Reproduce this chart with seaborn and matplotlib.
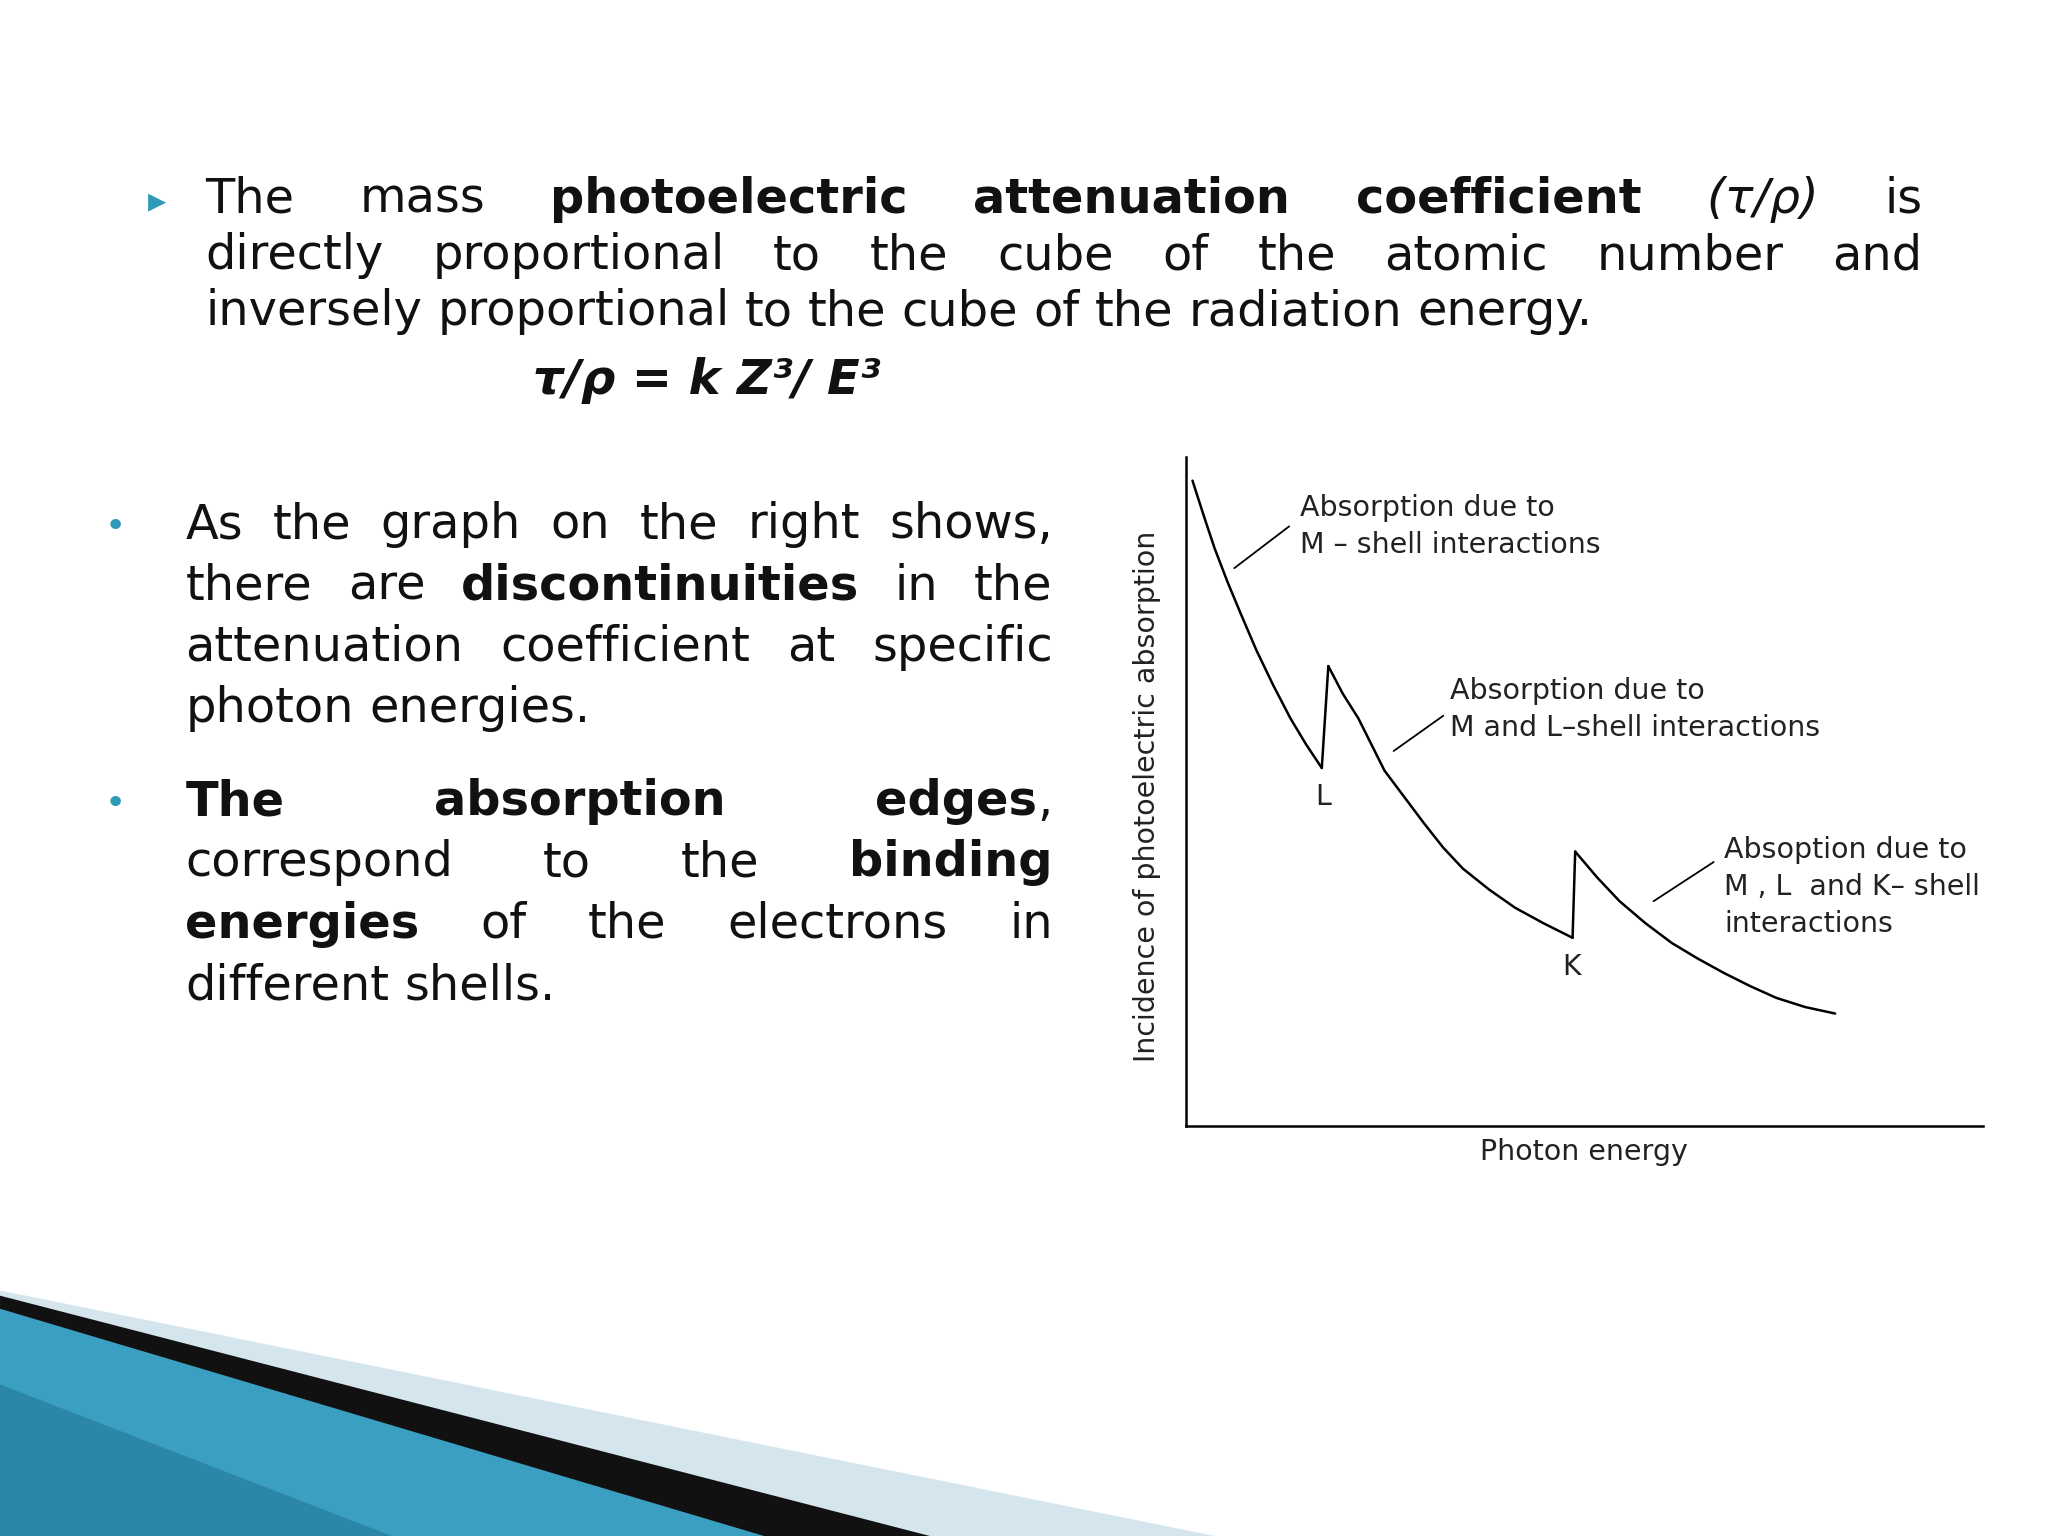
import matplotlib
matplotlib.use("Agg")
import matplotlib.pyplot as plt
import seaborn as sns
import pandas as pd
from matplotlib.patches import Polygon

sns.set_theme(style="white")
plt.rcParams['font.family'] = ['DejaVu Sans']

# Data (chart units: energy 0..610, absorption 0..512)
seg1_energy = [5, 14, 22, 32, 42, 54, 67, 80, 92, 104]
seg1_absorb = [494, 466, 442, 416, 392, 364, 337, 312, 292, 274]
seg2_energy = [109, 120, 132, 142, 152, 167, 182, 197, 212, 232, 252, 274, 296]
seg2_absorb = [352, 331, 312, 292, 272, 252, 232, 213, 197, 181, 167, 155, 144]
seg3_energy = [298, 315, 332, 352, 372, 392, 412, 432, 452, 474, 497]
seg3_absorb = [210, 190, 172, 155, 140, 128, 117, 107, 98, 91, 86]

rows = []
for s, (e, a) in enumerate([(seg1_energy, seg1_absorb), (seg2_energy, seg2_absorb), (seg3_energy, seg3_absorb)]):
    for xx, yy in zip(e, a):
        rows.append(dict(seg=s, energy=xx, absorb=yy))
df = pd.DataFrame(rows)
jump_rows = [dict(seg=3, energy=104, absorb=274), dict(seg=3, energy=109, absorb=352),
             dict(seg=4, energy=296, absorb=144), dict(seg=4, energy=298, absorb=210)]
df = pd.concat([df, pd.DataFrame(jump_rows)], ignore_index=True)

W, H = 1568, 1176
def f(px, py):
    return px / W, 1 - py / H

fig = plt.figure(figsize=(20.48, 15.36), dpi=100)
fig.patch.set_facecolor("white")

for pts, col in [([(0, 988), (930, 1176), (0, 1176)], "#d4e5ee"),
                 ([(0, 992), (712, 1176), (0, 1176)], "#111111"),
                 ([(0, 1002), (585, 1176), (0, 1176)], "#3b9fc2"),
                 ([(0, 1060), (300, 1176), (0, 1176)], "#2b86a8")]:
    fig.patches.append(Polygon([f(*p) for p in pts], closed=True, transform=fig.transFigure,
                               facecolor=col, edgecolor="none"))

renderer = fig.canvas.get_renderer()
FS = 34.5
TEAL = "#2e9ab8"

def justified(words, left, right, base, fs=FS, justify=True):
    arts = []
    for w, b, it in words:
        t = fig.text(0, 0, w, fontsize=fs, fontweight="bold" if b else "normal",
                     fontstyle="italic" if it else "normal", va="baseline", ha="left", color="#111111")
        arts.append(t)
    widths = [t.get_window_extent(renderer).width for t in arts]
    figw = fig.get_figwidth() * fig.dpi
    L = left / W * figw
    R = right / W * figw
    space = renderer.get_text_width_height_descent(" ", arts[0].get_fontproperties(), ismath=False)[0]
    gap = (R - L - sum(widths)) / (len(arts) - 1) if justify and len(arts) > 1 else space
    x = L
    for t, wd in zip(arts, widths):
        t.set_position((x / figw, 1 - base / H))
        x += wd + gap

def line(s, bold_words=(), italic_words=()):
    return [(w, w in bold_words, w in italic_words) for w in s.split()]

fig.text(*f(113, 162), "▸", fontsize=26, color=TEAL, va="baseline")
justified(line("The mass photoelectric attenuation coefficient (τ/ρ) is",
               bold_words=("photoelectric", "attenuation", "coefficient"), italic_words=("(τ/ρ)",)),
          157, 1472, 163)
justified(line("directly proportional to the cube of the atomic number and"), 157, 1472, 206)
justified(line("inversely proportional to the cube of the radiation energy."), 157, 1472, 249, justify=False)
fig.text(*f(408, 302), "τ/ρ = k Z³/ E³", fontsize=FS, fontweight="bold", fontstyle="italic",
         va="baseline", color="#111111")

fig.text(*f(80, 411), "•", fontsize=26, color=TEAL, va="baseline")
fig.text(*f(80, 623), "•", fontsize=26, color=TEAL, va="baseline")
R2 = 806
justified(line("As the graph on the right shows,"), 142, R2, 412)
justified(line("there are discontinuities  in the", bold_words=("discontinuities",)), 142, R2, 459)
justified(line("attenuation coefficient at specific"), 142, R2, 506)
justified(line("photon energies."), 142, R2, 553, justify=False)
justified([("The", True, False), ("absorption", True, False), ("edges", True, False)], 142, R2 - 12, 624)
fig.text(*f(794, 624), ",", fontsize=FS, va="baseline", color="#111111")
justified(line("correspond to the binding", bold_words=("binding",)), 142, R2, 671)
justified(line("energies of the electrons in", bold_words=("energies",)), 142, R2, 718)
justified(line("different shells."), 142, R2, 765, justify=False)

l, b = f(908, 862)
ax = fig.add_axes([l, b, 610 / W, 512 / H])
sns.lineplot(data=df, x="energy", y="absorb", units="seg", estimator=None, sort=False,
             color="black", linewidth=1.8, ax=ax)
ax.set_xlim(0, 610)
ax.set_ylim(0, 512)
ax.set_xticks([]); ax.set_yticks([])
ax.set_xlabel(""); ax.set_ylabel("")
for s in ["top", "right"]:
    ax.spines[s].set_visible(False)
for s in ["left", "bottom"]:
    ax.spines[s].set_color("black"); ax.spines[s].set_linewidth(1.8)
ax.set_facecolor("none")

CF = 20.5
fig.text(*f(878, 610), "Incidence of photoelectric absorption", rotation=90, fontsize=CF,
         ha="center", va="center", color="#222222")
fig.text(*f(1213, 882), "Photon energy", fontsize=CF, ha="center", va="center", color="#222222")
fig.text(*f(1013, 610), "L", fontsize=CF, ha="center", va="center", color="#222222")
fig.text(*f(1203, 740), "K", fontsize=CF, ha="center", va="center", color="#222222")
fig.text(*f(995, 403), "Absorption due to\nM – shell interactions", fontsize=CF, ha="left", va="center",
         linespacing=1.4, color="#222222")
fig.text(*f(1110, 543), "Absorption due to\nM and L–shell interactions", fontsize=CF, ha="left", va="center",
         linespacing=1.4, color="#222222")
fig.text(*f(1320, 679), "Absoption due to\nM , L  and K– shell\ninteractions", fontsize=CF, ha="left", va="center",
         linespacing=1.4, color="#222222")
for (x1, y1), (x2, y2) in [((945, 435), (987, 403)), ((1067, 575), (1105, 548)), ((1266, 690), (1312, 660))]:
    fig.add_artist(plt.Line2D([f(x1, y1)[0], f(x2, y2)[0]], [f(x1, y1)[1], f(x2, y2)[1]],
                              transform=fig.transFigure, color="black", linewidth=1.3))

fig.savefig("out.png", dpi=100)
